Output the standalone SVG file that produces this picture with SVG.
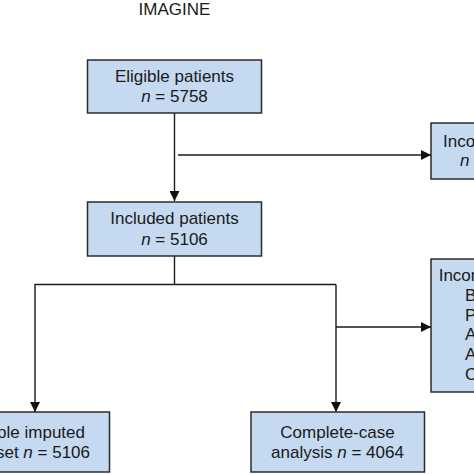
<svg xmlns="http://www.w3.org/2000/svg" width="474" height="474" viewBox="0 0 474 474">
<defs>
<style>
.box{fill:#c5d9f1;stroke:#2b2b2b;stroke-width:1.5}
.t{font-family:"Liberation Sans",Arial,sans-serif;font-size:17px;fill:#1a1a1a}
.c{text-anchor:middle}
.i{font-style:italic}
.ln{fill:none;stroke:#1a1a1a;stroke-width:1.4}
</style>
<marker id="ah" markerUnits="userSpaceOnUse" markerWidth="10" markerHeight="10" refX="10" refY="5" orient="auto">
<path d="M0,0 L10,5 L0,10 z" fill="#111"/>
</marker>
</defs>
<rect width="474" height="474" fill="#fff"/>
<text class="t c" x="174.5" y="15">IMAGINE</text>
<g id="connectors">
<line class="ln" x1="174.5" y1="113" x2="174.5" y2="201" marker-end="url(#ah)"/>
<line class="ln" x1="178" y1="155" x2="431" y2="155" marker-end="url(#ah)"/>
<polyline class="ln" points="174.5,256 174.5,284.5"/>
<line class="ln" x1="34.5" y1="284.5" x2="336" y2="284.5"/>
<line class="ln" x1="35" y1="284.5" x2="35" y2="412" marker-end="url(#ah)"/>
<line class="ln" x1="336" y1="284.5" x2="336" y2="412" marker-end="url(#ah)"/>
<line class="ln" x1="336" y1="327" x2="431" y2="327" marker-end="url(#ah)"/>
</g>
<g id="eligible">
<rect class="box" x="87.5" y="60" width="174" height="53"/>
<text class="t c" x="174.5" y="82">Eligible patients</text>
<text class="t c" x="174.5" y="102"><tspan class="i">n</tspan> = 5758</text>
</g>
<g id="included">
<rect class="box" x="87.5" y="202" width="174" height="54"/>
<text class="t c" x="174.5" y="224">Included patients</text>
<text class="t c" x="174.5" y="245"><tspan class="i">n</tspan> = 5106</text>
</g>
<g id="excluded1">
<rect class="box" x="431" y="123" width="70" height="56"/>
<text class="t" x="443" y="146.5">Inco</text>
<text class="t" x="460" y="166"><tspan class="i">n</tspan> =</text>
</g>
<g id="excluded2">
<rect class="box" x="431" y="259" width="70" height="133"/>
<text class="t" x="438.7" y="281">Incom</text>
<text class="t" x="465" y="301">B</text>
<text class="t" x="465" y="320.5">P</text>
<text class="t" x="465" y="340">A</text>
<text class="t" x="465" y="360">A</text>
<text class="t" x="465" y="379.5">C</text>
</g>
<g id="imputed">
<rect class="box" x="-40" y="412" width="149.5" height="60"/>
<text class="t" x="85" y="438" text-anchor="end">ple imputed</text>
<text class="t" x="90" y="458" text-anchor="end">set <tspan class="i">n</tspan> = 5106</text>
</g>
<g id="complete">
<rect class="box" x="251" y="412" width="173.5" height="60"/>
<text class="t c" x="337.5" y="438">Complete-case</text>
<text class="t c" x="337.5" y="458">analysis <tspan class="i">n</tspan> = 4064</text>
</g>
</svg>
